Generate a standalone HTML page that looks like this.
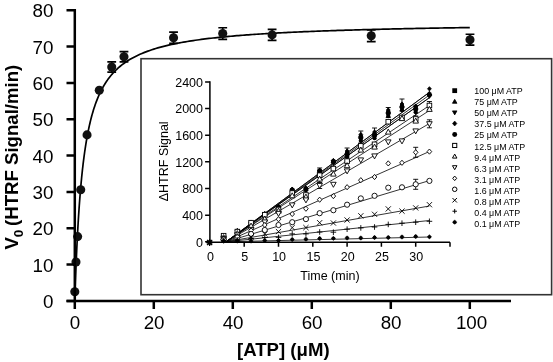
<!DOCTYPE html>
<html><head><meta charset="utf-8"><style>html,body{margin:0;padding:0;background:#fff;}svg{display:block;}</style></head>
<body><svg width="553" height="362" viewBox="0 0 553 362">
<rect width="553" height="362" fill="#fff"/>
<polyline points="74.80,300.90 74.88,298.37 74.96,295.89 75.04,293.45 75.12,291.06 75.19,288.70 75.27,286.39 75.35,284.12 75.43,281.88 75.51,279.68 75.59,277.52 75.67,275.40 75.75,273.31 75.83,271.26 75.91,269.23 75.98,267.24 76.06,265.29 76.14,263.36 76.22,261.46 76.30,259.60 76.38,257.76 76.46,255.95 76.54,254.17 76.62,252.41 76.70,250.68 76.77,248.98 76.85,247.30 76.93,245.65 77.01,244.02 77.09,242.41 77.17,240.83 77.25,239.27 77.33,237.73 77.41,236.21 77.49,234.72 77.56,233.24 77.64,231.79 77.72,230.35 77.80,228.93 77.88,227.54 77.96,226.16 78.04,224.80 78.12,223.46 78.20,222.14 78.28,220.83 78.36,219.54 78.43,218.27 78.51,217.01 78.59,215.77 78.67,214.54 78.75,213.33 78.83,212.14 78.91,210.96 78.99,209.79 79.07,208.64 79.14,207.50 79.22,206.38 79.30,205.27 79.38,204.17 79.46,203.09 79.54,202.02 79.62,200.96 79.70,199.91 79.78,198.88 79.86,197.86 79.94,196.85 80.01,195.85 80.09,194.86 80.17,193.89 80.25,192.92 80.33,191.97 80.41,191.02 80.49,190.09 80.57,189.16 80.65,188.25 80.72,187.35 80.80,186.45 80.88,185.57 80.96,184.69 81.04,183.83 81.12,182.97 81.20,182.13 81.28,181.29 81.36,180.46 81.44,179.64 81.52,178.82 81.59,178.02 81.67,177.22 81.75,176.43 81.83,175.65 81.91,174.88 81.99,174.12 82.07,173.36 82.15,172.61 82.23,171.87 82.30,171.13 82.38,170.41 82.46,169.68 82.54,168.97 82.62,168.26 82.70,167.56 83.09,164.16 83.49,160.91 83.88,157.81 84.28,154.84 84.67,152.00 85.07,149.28 85.47,146.66 85.86,144.16 86.25,141.75 86.65,139.43 87.05,137.20 87.44,135.06 87.83,132.99 88.23,131.00 88.62,129.07 89.02,127.22 89.41,125.42 89.81,123.69 90.20,122.01 90.60,120.39 91.00,118.82 91.39,117.30 91.78,115.82 92.18,114.39 92.58,113.00 92.97,111.66 93.36,110.35 93.76,109.08 94.16,107.84 94.55,106.64 94.94,105.48 95.34,104.34 95.73,103.24 96.13,102.16 96.53,101.11 96.92,100.09 97.31,99.10 97.71,98.13 98.11,97.18 98.50,96.26 98.89,95.35 99.29,94.48 99.69,93.62 100.08,92.78 100.47,91.96 100.87,91.16 101.27,90.37 101.66,89.61 102.06,88.86 102.45,88.13 102.84,87.41 103.24,86.71 103.64,86.02 104.03,85.35 104.42,84.69 104.82,84.05 105.22,83.42 105.61,82.80 106.00,82.19 106.40,81.60 106.80,81.01 107.19,80.44 107.59,79.88 107.98,79.33 108.38,78.79 108.77,78.26 109.16,77.74 109.56,77.23 109.95,76.72 110.35,76.23 110.75,75.75 111.14,75.27 111.53,74.80 111.93,74.34 112.32,73.89 112.72,73.45 113.11,73.01 113.51,72.58 113.91,72.16 114.30,71.75 116.28,69.77 118.25,67.94 120.22,66.25 122.20,64.67 124.17,63.20 126.15,61.83 128.12,60.55 130.10,59.35 132.07,58.21 134.05,57.15 136.03,56.14 138.00,55.19 139.97,54.29 141.95,53.44 143.93,52.63 145.90,51.86 147.88,51.13 149.85,50.43 151.82,49.77 153.80,49.13 155.78,48.52 157.75,47.94 159.72,47.38 161.70,46.85 163.68,46.34 165.65,45.85 167.62,45.37 169.60,44.92 171.57,44.48 173.55,44.06 175.53,43.65 177.50,43.26 179.48,42.88 181.45,42.52 183.43,42.17 185.40,41.82 187.38,41.49 189.35,41.17 191.32,40.87 193.30,40.57 195.28,40.27 197.25,39.99 199.23,39.72 201.20,39.45 203.18,39.20 205.15,38.95 207.12,38.70 209.10,38.46 211.07,38.23 213.05,38.01 215.02,37.79 217.00,37.58 218.98,37.37 220.95,37.17 222.93,36.97 224.90,36.78 226.88,36.60 228.85,36.41 230.82,36.23 232.80,36.06 234.77,35.89 236.75,35.72 238.73,35.56 240.70,35.40 242.68,35.25 244.65,35.10 246.62,34.95 248.60,34.81 250.57,34.66 252.55,34.52 254.52,34.39 256.50,34.26 258.48,34.12 260.45,34.00 262.43,33.87 264.40,33.75 266.38,33.63 268.35,33.51 270.32,33.40 272.30,33.28 274.28,33.17 276.25,33.06 278.23,32.95 280.20,32.85 282.18,32.75 284.15,32.65 286.12,32.55 288.10,32.45 290.07,32.35 292.05,32.26 294.03,32.16 296.00,32.07 297.98,31.98 299.95,31.90 301.93,31.81 303.90,31.72 305.88,31.64 307.85,31.56 309.82,31.48 311.80,31.40 313.78,31.32 315.75,31.24 317.73,31.17 319.70,31.09 321.68,31.02 323.65,30.94 325.62,30.87 327.60,30.80 329.57,30.73 331.55,30.67 333.53,30.60 335.50,30.53 337.48,30.47 339.45,30.40 341.43,30.34 343.40,30.28 345.38,30.21 347.35,30.15 349.33,30.09 351.30,30.03 353.28,29.98 355.25,29.92 357.23,29.86 359.20,29.81 361.18,29.75 363.15,29.70 365.12,29.64 367.10,29.59 369.08,29.54 371.05,29.49 373.03,29.44 375.00,29.38 376.98,29.33 378.95,29.29 380.93,29.24 382.90,29.19 384.88,29.14 386.85,29.10 388.83,29.05 390.80,29.00 392.78,28.96 394.75,28.91 396.73,28.87 398.70,28.83 400.68,28.78 402.65,28.74 404.62,28.70 406.60,28.66 408.58,28.62 410.55,28.58 412.53,28.54 414.50,28.50 416.48,28.46 418.45,28.42 420.43,28.38 422.40,28.34 424.38,28.31 426.35,28.27 428.33,28.23 430.30,28.20 432.28,28.16 434.25,28.13 436.23,28.09 438.20,28.06 440.18,28.02 442.15,27.99 444.12,27.95 446.10,27.92 448.08,27.89 450.05,27.86 452.03,27.82 454.00,27.79 455.98,27.76 457.95,27.73 459.93,27.70 461.90,27.67 463.88,27.64 465.85,27.61 467.83,27.58 469.80,27.55" fill="none" stroke="#000" stroke-width="1.7"/>
<circle cx="74.80" cy="291.82" r="4.55" fill="#111"/>
<circle cx="75.98" cy="262.03" r="4.55" fill="#111"/>
<circle cx="77.64" cy="236.60" r="4.55" fill="#111"/>
<circle cx="80.72" cy="189.75" r="4.55" fill="#111"/>
<circle cx="87.05" cy="134.89" r="4.55" fill="#111"/>
<circle cx="99.29" cy="90.21" r="4.55" fill="#111"/>
<path d="M111.73,61.88V72.05M107.33,61.88h8.8M107.33,72.05h8.8" stroke="#000" stroke-width="1.7" fill="none"/>
<circle cx="111.73" cy="66.97" r="4.55" fill="#111"/>
<path d="M123.98,51.71V61.88M119.58,51.71h8.8M119.58,61.88h8.8" stroke="#000" stroke-width="1.7" fill="none"/>
<circle cx="123.98" cy="56.80" r="4.55" fill="#111"/>
<path d="M173.55,32.20V43.46M169.15,32.20h8.8M169.15,43.46h8.8" stroke="#000" stroke-width="1.7" fill="none"/>
<circle cx="173.55" cy="37.83" r="4.55" fill="#111"/>
<path d="M222.73,27.74V39.36M218.33,27.74h8.8M218.33,39.36h8.8" stroke="#000" stroke-width="1.7" fill="none"/>
<circle cx="222.73" cy="33.55" r="4.55" fill="#111"/>
<path d="M272.10,29.44V40.34M267.70,29.44h8.8M267.70,40.34h8.8" stroke="#000" stroke-width="1.7" fill="none"/>
<circle cx="272.10" cy="34.89" r="4.55" fill="#111"/>
<path d="M371.25,29.92V41.54M366.85,29.92h8.8M366.85,41.54h8.8" stroke="#000" stroke-width="1.7" fill="none"/>
<circle cx="371.25" cy="35.73" r="4.55" fill="#111"/>
<path d="M470.00,34.27V45.17M465.60,34.27h8.8M465.60,45.17h8.8" stroke="#000" stroke-width="1.7" fill="none"/>
<circle cx="470.00" cy="39.72" r="4.55" fill="#111"/>
<path d="M74.8,9.100000000000012V300.9M66.5,300.9H511" stroke="#000" stroke-width="2.5" fill="none"/>
<path d="M66.5,300.90H74.8M66.5,264.57H74.8M66.5,228.25H74.8M66.5,191.92H74.8M66.5,155.60H74.8M66.5,119.27H74.8M66.5,82.95H74.8M66.5,46.62H74.8M66.5,10.30H74.8M74.80,300.9V309M153.80,300.9V309M232.80,300.9V309M311.80,300.9V309M390.80,300.9V309M469.80,300.9V309" stroke="#000" stroke-width="2.5" fill="none"/>
<g font-family="Liberation Sans, Arial, sans-serif" font-size="18.8" fill="#000">
<text x="53.5" y="308.00" text-anchor="end">0</text>
<text x="53.5" y="271.68" text-anchor="end">10</text>
<text x="53.5" y="235.35" text-anchor="end">20</text>
<text x="53.5" y="199.02" text-anchor="end">30</text>
<text x="53.5" y="162.70" text-anchor="end">40</text>
<text x="53.5" y="126.37" text-anchor="end">50</text>
<text x="53.5" y="90.05" text-anchor="end">60</text>
<text x="53.5" y="53.73" text-anchor="end">70</text>
<text x="53.5" y="17.40" text-anchor="end">80</text>
<text x="75.10" y="328.8" text-anchor="middle">0</text>
<text x="154.10" y="328.8" text-anchor="middle">20</text>
<text x="233.10" y="328.8" text-anchor="middle">40</text>
<text x="312.10" y="328.8" text-anchor="middle">60</text>
<text x="391.10" y="328.8" text-anchor="middle">80</text>
<text x="471.60" y="328.8" text-anchor="middle">100</text>
</g>
<text x="283.3" y="356" text-anchor="middle" font-family="Liberation Sans, Arial, sans-serif" font-size="18.6" font-weight="bold">[ATP] (μM)</text>
<text transform="translate(17.6,249.6) rotate(-90)" font-family="Liberation Sans, Arial, sans-serif" font-size="18.6" font-weight="bold">V<tspan font-size="13.5" dy="5.2">0 </tspan><tspan dy="-5.2">(HTRF Signal/min)</tspan></text>
<rect x="141" y="58.7" width="410.6" height="236" fill="#fff" stroke="#333" stroke-width="1.6"/>
<path d="M226.02,241.80L429.42,92.30M226.02,241.80L429.42,92.30M226.02,241.80L429.42,95.00M226.02,241.80L429.42,97.70M226.02,241.80L429.42,97.70M226.02,241.80L429.42,105.50M226.02,241.80L429.42,110.50M226.02,241.80L429.42,123.50M226.02,241.80L429.42,151.50M226.02,241.80L429.42,180.60M226.02,241.80L429.42,206.00M226.02,241.80L429.42,220.50M226.02,241.80L429.42,237.00" stroke="#000" stroke-width="0.8" fill="none"/>
<rect x="221.65" y="234.51" width="3.94" height="3.94" fill="#000"/>
<rect x="235.37" y="229.51" width="3.94" height="3.94" fill="#000"/>
<rect x="249.09" y="221.01" width="3.94" height="3.94" fill="#000"/>
<rect x="262.81" y="212.51" width="3.94" height="3.94" fill="#000"/>
<rect x="276.53" y="205.31" width="3.94" height="3.94" fill="#000"/>
<rect x="290.25" y="188.01" width="3.94" height="3.94" fill="#000"/>
<rect x="303.97" y="187.01" width="3.94" height="3.94" fill="#000"/>
<path d="M319.66,167.97V173.97M317.16,167.97h5M317.16,173.97h5" stroke="#000" stroke-width="0.9" fill="none"/>
<rect x="317.69" y="169.01" width="3.94" height="3.94" fill="#000"/>
<rect x="331.41" y="159.51" width="3.94" height="3.94" fill="#000"/>
<rect x="345.13" y="151.53" width="3.94" height="3.94" fill="#000"/>
<path d="M360.82,131.00V143.00M358.32,131.00h5M358.32,143.00h5" stroke="#000" stroke-width="0.9" fill="none"/>
<rect x="358.85" y="135.03" width="3.94" height="3.94" fill="#000"/>
<rect x="372.57" y="132.53" width="3.94" height="3.94" fill="#000"/>
<path d="M388.26,107.50V117.50M385.76,107.50h5M385.76,117.50h5" stroke="#000" stroke-width="0.9" fill="none"/>
<rect x="386.29" y="110.53" width="3.94" height="3.94" fill="#000"/>
<rect x="400.01" y="104.53" width="3.94" height="3.94" fill="#000"/>
<rect x="413.73" y="106.53" width="3.94" height="3.94" fill="#000"/>
<rect x="427.45" y="92.53" width="3.94" height="3.94" fill="#000"/>
<path d="M223.62,233.57L225.92,237.67L221.32,237.67Z" fill="#000" stroke="#000" stroke-width="0.8"/>
<path d="M237.34,228.57L239.64,232.67L235.04,232.67Z" fill="#000" stroke="#000" stroke-width="0.8"/>
<path d="M251.06,220.07L253.36,224.17L248.76,224.17Z" fill="#000" stroke="#000" stroke-width="0.8"/>
<path d="M264.78,211.57L267.08,215.67L262.48,215.67Z" fill="#000" stroke="#000" stroke-width="0.8"/>
<path d="M278.50,204.37L280.80,208.47L276.20,208.47Z" fill="#000" stroke="#000" stroke-width="0.8"/>
<path d="M292.22,187.07L294.52,191.17L289.92,191.17Z" fill="#000" stroke="#000" stroke-width="0.8"/>
<path d="M305.94,186.07L308.24,190.17L303.64,190.17Z" fill="#000" stroke="#000" stroke-width="0.8"/>
<path d="M319.66,168.07L321.96,172.17L317.36,172.17Z" fill="#000" stroke="#000" stroke-width="0.8"/>
<path d="M333.38,158.57L335.68,162.67L331.08,162.67Z" fill="#000" stroke="#000" stroke-width="0.8"/>
<path d="M347.10,148.00V156.00M344.60,148.00h5M344.60,156.00h5" stroke="#000" stroke-width="0.9" fill="none"/>
<path d="M347.10,149.62L349.40,153.72L344.80,153.72Z" fill="#000" stroke="#000" stroke-width="0.8"/>
<path d="M360.82,133.12L363.12,137.22L358.52,137.22Z" fill="#000" stroke="#000" stroke-width="0.8"/>
<path d="M374.54,130.62L376.84,134.72L372.24,134.72Z" fill="#000" stroke="#000" stroke-width="0.8"/>
<path d="M388.26,108.62L390.56,112.72L385.96,112.72Z" fill="#000" stroke="#000" stroke-width="0.8"/>
<path d="M401.98,99.00V111.00M399.48,99.00h5M399.48,111.00h5" stroke="#000" stroke-width="0.9" fill="none"/>
<path d="M401.98,102.62L404.28,106.72L399.68,106.72Z" fill="#000" stroke="#000" stroke-width="0.8"/>
<path d="M415.70,104.62L418.00,108.72L413.40,108.72Z" fill="#000" stroke="#000" stroke-width="0.8"/>
<path d="M429.42,91.12L431.72,95.22L427.12,95.22Z" fill="#000" stroke="#000" stroke-width="0.8"/>
<path d="M223.62,239.73L225.92,235.63L221.32,235.63Z" fill="#000" stroke="#000" stroke-width="0.8"/>
<path d="M237.34,234.73L239.64,230.63L235.04,230.63Z" fill="#000" stroke="#000" stroke-width="0.8"/>
<path d="M251.06,226.23L253.36,222.13L248.76,222.13Z" fill="#000" stroke="#000" stroke-width="0.8"/>
<path d="M264.78,217.73L267.08,213.63L262.48,213.63Z" fill="#000" stroke="#000" stroke-width="0.8"/>
<path d="M278.50,210.53L280.80,206.43L276.20,206.43Z" fill="#000" stroke="#000" stroke-width="0.8"/>
<path d="M292.22,193.23L294.52,189.13L289.92,189.13Z" fill="#000" stroke="#000" stroke-width="0.8"/>
<path d="M305.94,192.23L308.24,188.13L303.64,188.13Z" fill="#000" stroke="#000" stroke-width="0.8"/>
<path d="M319.66,174.23L321.96,170.13L317.36,170.13Z" fill="#000" stroke="#000" stroke-width="0.8"/>
<path d="M333.38,164.73L335.68,160.63L331.08,160.63Z" fill="#000" stroke="#000" stroke-width="0.8"/>
<path d="M347.10,158.38L349.40,154.28L344.80,154.28Z" fill="#000" stroke="#000" stroke-width="0.8"/>
<path d="M360.82,141.88L363.12,137.78L358.52,137.78Z" fill="#000" stroke="#000" stroke-width="0.8"/>
<path d="M374.54,139.38L376.84,135.28L372.24,135.28Z" fill="#000" stroke="#000" stroke-width="0.8"/>
<path d="M388.26,117.38L390.56,113.28L385.96,113.28Z" fill="#000" stroke="#000" stroke-width="0.8"/>
<path d="M401.98,111.38L404.28,107.28L399.68,107.28Z" fill="#000" stroke="#000" stroke-width="0.8"/>
<path d="M415.70,106.00V116.00M413.20,106.00h5M413.20,116.00h5" stroke="#000" stroke-width="0.9" fill="none"/>
<path d="M415.70,113.38L418.00,109.28L413.40,109.28Z" fill="#000" stroke="#000" stroke-width="0.8"/>
<path d="M429.42,98.38L431.72,94.28L427.12,94.28Z" fill="#000" stroke="#000" stroke-width="0.8"/>
<path d="M223.62,233.47L225.51,235.60L223.62,237.73L221.73,235.60Z" fill="#000" stroke="#000" stroke-width="0.8"/>
<path d="M237.34,228.47L239.23,230.60L237.34,232.73L235.45,230.60Z" fill="#000" stroke="#000" stroke-width="0.8"/>
<path d="M251.06,219.97L252.95,222.10L251.06,224.23L249.17,222.10Z" fill="#000" stroke="#000" stroke-width="0.8"/>
<path d="M264.78,211.47L266.67,213.60L264.78,215.73L262.89,213.60Z" fill="#000" stroke="#000" stroke-width="0.8"/>
<path d="M278.50,204.27L280.39,206.40L278.50,208.53L276.61,206.40Z" fill="#000" stroke="#000" stroke-width="0.8"/>
<path d="M292.22,186.97L294.11,189.10L292.22,191.23L290.33,189.10Z" fill="#000" stroke="#000" stroke-width="0.8"/>
<path d="M305.94,185.97L307.83,188.10L305.94,190.23L304.05,188.10Z" fill="#000" stroke="#000" stroke-width="0.8"/>
<path d="M319.66,167.97L321.55,170.10L319.66,172.23L317.77,170.10Z" fill="#000" stroke="#000" stroke-width="0.8"/>
<path d="M333.38,158.47L335.27,160.60L333.38,162.73L331.49,160.60Z" fill="#000" stroke="#000" stroke-width="0.8"/>
<path d="M347.10,148.87L348.99,151.00L347.10,153.13L345.21,151.00Z" fill="#000" stroke="#000" stroke-width="0.8"/>
<path d="M360.82,132.37L362.71,134.50L360.82,136.63L358.93,134.50Z" fill="#000" stroke="#000" stroke-width="0.8"/>
<path d="M374.54,128.00V136.00M372.04,128.00h5M372.04,136.00h5" stroke="#000" stroke-width="0.9" fill="none"/>
<path d="M374.54,129.87L376.43,132.00L374.54,134.13L372.65,132.00Z" fill="#000" stroke="#000" stroke-width="0.8"/>
<path d="M388.26,107.87L390.15,110.00L388.26,112.13L386.37,110.00Z" fill="#000" stroke="#000" stroke-width="0.8"/>
<path d="M401.98,101.87L403.87,104.00L401.98,106.13L400.09,104.00Z" fill="#000" stroke="#000" stroke-width="0.8"/>
<path d="M415.70,103.87L417.59,106.00L415.70,108.13L413.81,106.00Z" fill="#000" stroke="#000" stroke-width="0.8"/>
<path d="M429.42,86.67L431.31,88.80L429.42,90.93L427.53,88.80Z" fill="#000" stroke="#000" stroke-width="0.8"/>
<circle cx="223.62" cy="237.77" r="2.13" fill="#000"/>
<circle cx="237.34" cy="232.77" r="2.13" fill="#000"/>
<circle cx="251.06" cy="224.27" r="2.13" fill="#000"/>
<circle cx="264.78" cy="215.77" r="2.13" fill="#000"/>
<circle cx="278.50" cy="208.57" r="2.13" fill="#000"/>
<circle cx="292.22" cy="191.27" r="2.13" fill="#000"/>
<circle cx="305.94" cy="190.27" r="2.13" fill="#000"/>
<circle cx="319.66" cy="172.27" r="2.13" fill="#000"/>
<circle cx="333.38" cy="162.77" r="2.13" fill="#000"/>
<circle cx="347.10" cy="157.20" r="2.13" fill="#000"/>
<circle cx="360.82" cy="140.70" r="2.13" fill="#000"/>
<circle cx="374.54" cy="138.20" r="2.13" fill="#000"/>
<circle cx="388.26" cy="116.20" r="2.13" fill="#000"/>
<circle cx="401.98" cy="110.20" r="2.13" fill="#000"/>
<circle cx="415.70" cy="112.20" r="2.13" fill="#000"/>
<circle cx="429.42" cy="95.50" r="2.13" fill="#000"/>
<rect x="221.32" y="233.40" width="4.60" height="4.60" fill="#fff" stroke="#000" stroke-width="0.9"/>
<rect x="235.04" y="229.30" width="4.60" height="4.60" fill="#fff" stroke="#000" stroke-width="0.9"/>
<rect x="248.76" y="220.40" width="4.60" height="4.60" fill="#fff" stroke="#000" stroke-width="0.9"/>
<rect x="262.48" y="212.40" width="4.60" height="4.60" fill="#fff" stroke="#000" stroke-width="0.9"/>
<rect x="276.20" y="207.20" width="4.60" height="4.60" fill="#fff" stroke="#000" stroke-width="0.9"/>
<rect x="289.92" y="190.70" width="4.60" height="4.60" fill="#fff" stroke="#000" stroke-width="0.9"/>
<rect x="303.64" y="192.70" width="4.60" height="4.60" fill="#fff" stroke="#000" stroke-width="0.9"/>
<rect x="317.36" y="172.90" width="4.60" height="4.60" fill="#fff" stroke="#000" stroke-width="0.9"/>
<rect x="331.08" y="166.30" width="4.60" height="4.60" fill="#fff" stroke="#000" stroke-width="0.9"/>
<rect x="344.80" y="158.80" width="4.60" height="4.60" fill="#fff" stroke="#000" stroke-width="0.9"/>
<rect x="358.52" y="143.60" width="4.60" height="4.60" fill="#fff" stroke="#000" stroke-width="0.9"/>
<rect x="372.24" y="142.00" width="4.60" height="4.60" fill="#fff" stroke="#000" stroke-width="0.9"/>
<rect x="385.96" y="119.40" width="4.60" height="4.60" fill="#fff" stroke="#000" stroke-width="0.9"/>
<rect x="399.68" y="115.20" width="4.60" height="4.60" fill="#fff" stroke="#000" stroke-width="0.9"/>
<rect x="413.40" y="116.70" width="4.60" height="4.60" fill="#fff" stroke="#000" stroke-width="0.9"/>
<path d="M429.42,101.50V109.50M426.92,101.50h5M426.92,109.50h5" stroke="#000" stroke-width="0.9" fill="none"/>
<rect x="427.12" y="103.20" width="4.60" height="4.60" fill="#fff" stroke="#000" stroke-width="0.9"/>
<path d="M223.62,234.60L226.42,239.60L220.82,239.60Z" fill="#fff" stroke="#000" stroke-width="0.9"/>
<path d="M237.34,230.60L240.14,235.60L234.54,235.60Z" fill="#fff" stroke="#000" stroke-width="0.9"/>
<path d="M251.06,223.10L253.86,228.10L248.26,228.10Z" fill="#fff" stroke="#000" stroke-width="0.9"/>
<path d="M264.78,216.10L267.58,221.10L261.98,221.10Z" fill="#fff" stroke="#000" stroke-width="0.9"/>
<path d="M278.50,208.10L281.30,213.10L275.70,213.10Z" fill="#fff" stroke="#000" stroke-width="0.9"/>
<path d="M292.22,192.80L295.02,197.80L289.42,197.80Z" fill="#fff" stroke="#000" stroke-width="0.9"/>
<path d="M305.94,194.10L308.74,199.10L303.14,199.10Z" fill="#fff" stroke="#000" stroke-width="0.9"/>
<path d="M319.66,176.10L322.46,181.10L316.86,181.10Z" fill="#fff" stroke="#000" stroke-width="0.9"/>
<path d="M333.38,171.10L336.18,176.10L330.58,176.10Z" fill="#fff" stroke="#000" stroke-width="0.9"/>
<path d="M347.10,162.70L349.90,167.70L344.30,167.70Z" fill="#fff" stroke="#000" stroke-width="0.9"/>
<path d="M360.82,147.10L363.62,152.10L358.02,152.10Z" fill="#fff" stroke="#000" stroke-width="0.9"/>
<path d="M374.54,144.10L377.34,149.10L371.74,149.10Z" fill="#fff" stroke="#000" stroke-width="0.9"/>
<path d="M388.26,129.10L391.06,134.10L385.46,134.10Z" fill="#fff" stroke="#000" stroke-width="0.9"/>
<path d="M401.98,115.60L404.78,120.60L399.18,120.60Z" fill="#fff" stroke="#000" stroke-width="0.9"/>
<path d="M415.70,118.10L418.50,123.10L412.90,123.10Z" fill="#fff" stroke="#000" stroke-width="0.9"/>
<path d="M429.42,106.40L432.22,111.40L426.62,111.40Z" fill="#fff" stroke="#000" stroke-width="0.9"/>
<path d="M223.62,241.40L226.42,236.40L220.82,236.40Z" fill="#fff" stroke="#000" stroke-width="0.9"/>
<path d="M237.34,237.90L240.14,232.90L234.54,232.90Z" fill="#fff" stroke="#000" stroke-width="0.9"/>
<path d="M251.06,232.40L253.86,227.40L248.26,227.40Z" fill="#fff" stroke="#000" stroke-width="0.9"/>
<path d="M264.78,224.90L267.58,219.90L261.98,219.90Z" fill="#fff" stroke="#000" stroke-width="0.9"/>
<path d="M278.50,216.40L281.30,211.40L275.70,211.40Z" fill="#fff" stroke="#000" stroke-width="0.9"/>
<path d="M292.22,207.90L295.02,202.90L289.42,202.90Z" fill="#fff" stroke="#000" stroke-width="0.9"/>
<path d="M305.94,202.90L308.74,197.90L303.14,197.90Z" fill="#fff" stroke="#000" stroke-width="0.9"/>
<path d="M319.66,182.50V188.50M317.16,182.50h5M317.16,188.50h5" stroke="#000" stroke-width="0.9" fill="none"/>
<path d="M319.66,188.40L322.46,183.40L316.86,183.40Z" fill="#fff" stroke="#000" stroke-width="0.9"/>
<path d="M333.38,187.30L336.18,182.30L330.58,182.30Z" fill="#fff" stroke="#000" stroke-width="0.9"/>
<path d="M347.10,173.90L349.90,168.90L344.30,168.90Z" fill="#fff" stroke="#000" stroke-width="0.9"/>
<path d="M360.82,162.90L363.62,157.90L358.02,157.90Z" fill="#fff" stroke="#000" stroke-width="0.9"/>
<path d="M374.54,158.90L377.34,153.90L371.74,153.90Z" fill="#fff" stroke="#000" stroke-width="0.9"/>
<path d="M388.26,144.90L391.06,139.90L385.46,139.90Z" fill="#fff" stroke="#000" stroke-width="0.9"/>
<path d="M401.98,143.90L404.78,138.90L399.18,138.90Z" fill="#fff" stroke="#000" stroke-width="0.9"/>
<path d="M415.70,133.90L418.50,128.90L412.90,128.90Z" fill="#fff" stroke="#000" stroke-width="0.9"/>
<path d="M429.42,119.80V127.80M426.92,119.80h5M426.92,127.80h5" stroke="#000" stroke-width="0.9" fill="none"/>
<path d="M429.42,126.70L432.22,121.70L426.62,121.70Z" fill="#fff" stroke="#000" stroke-width="0.9"/>
<path d="M223.62,236.40L225.92,239.00L223.62,241.60L221.32,239.00Z" fill="#fff" stroke="#000" stroke-width="0.9"/>
<path d="M237.34,233.90L239.64,236.50L237.34,239.10L235.04,236.50Z" fill="#fff" stroke="#000" stroke-width="0.9"/>
<path d="M251.06,227.90L253.36,230.50L251.06,233.10L248.76,230.50Z" fill="#fff" stroke="#000" stroke-width="0.9"/>
<path d="M264.78,222.40L267.08,225.00L264.78,227.60L262.48,225.00Z" fill="#fff" stroke="#000" stroke-width="0.9"/>
<path d="M278.50,216.60L280.80,219.20L278.50,221.80L276.20,219.20Z" fill="#fff" stroke="#000" stroke-width="0.9"/>
<path d="M292.22,211.40L294.52,214.00L292.22,216.60L289.92,214.00Z" fill="#fff" stroke="#000" stroke-width="0.9"/>
<path d="M305.94,206.10L308.24,208.70L305.94,211.30L303.64,208.70Z" fill="#fff" stroke="#000" stroke-width="0.9"/>
<path d="M319.66,197.10L321.96,199.70L319.66,202.30L317.36,199.70Z" fill="#fff" stroke="#000" stroke-width="0.9"/>
<path d="M333.38,193.50L335.68,196.10L333.38,198.70L331.08,196.10Z" fill="#fff" stroke="#000" stroke-width="0.9"/>
<path d="M347.10,184.60L349.40,187.20L347.10,189.80L344.80,187.20Z" fill="#fff" stroke="#000" stroke-width="0.9"/>
<path d="M360.82,177.60L363.12,180.20L360.82,182.80L358.52,180.20Z" fill="#fff" stroke="#000" stroke-width="0.9"/>
<path d="M374.54,174.40L376.84,177.00L374.54,179.60L372.24,177.00Z" fill="#fff" stroke="#000" stroke-width="0.9"/>
<path d="M388.26,160.80L390.56,163.40L388.26,166.00L385.96,163.40Z" fill="#fff" stroke="#000" stroke-width="0.9"/>
<path d="M401.98,160.20L404.28,162.80L401.98,165.40L399.68,162.80Z" fill="#fff" stroke="#000" stroke-width="0.9"/>
<path d="M415.70,147.30V157.30M413.20,147.30h5M413.20,157.30h5" stroke="#000" stroke-width="0.9" fill="none"/>
<path d="M415.70,149.70L418.00,152.30L415.70,154.90L413.40,152.30Z" fill="#fff" stroke="#000" stroke-width="0.9"/>
<path d="M429.42,149.00L431.72,151.60L429.42,154.20L427.12,151.60Z" fill="#fff" stroke="#000" stroke-width="0.9"/>
<circle cx="223.62" cy="239.50" r="2.60" fill="#fff" stroke="#000" stroke-width="0.9"/>
<circle cx="237.34" cy="237.50" r="2.60" fill="#fff" stroke="#000" stroke-width="0.9"/>
<circle cx="251.06" cy="234.00" r="2.60" fill="#fff" stroke="#000" stroke-width="0.9"/>
<circle cx="264.78" cy="230.00" r="2.60" fill="#fff" stroke="#000" stroke-width="0.9"/>
<circle cx="278.50" cy="225.00" r="2.60" fill="#fff" stroke="#000" stroke-width="0.9"/>
<circle cx="292.22" cy="222.20" r="2.60" fill="#fff" stroke="#000" stroke-width="0.9"/>
<circle cx="305.94" cy="219.10" r="2.60" fill="#fff" stroke="#000" stroke-width="0.9"/>
<circle cx="319.66" cy="213.20" r="2.60" fill="#fff" stroke="#000" stroke-width="0.9"/>
<circle cx="333.38" cy="210.20" r="2.60" fill="#fff" stroke="#000" stroke-width="0.9"/>
<circle cx="347.10" cy="204.70" r="2.60" fill="#fff" stroke="#000" stroke-width="0.9"/>
<circle cx="360.82" cy="198.40" r="2.60" fill="#fff" stroke="#000" stroke-width="0.9"/>
<circle cx="374.54" cy="195.80" r="2.60" fill="#fff" stroke="#000" stroke-width="0.9"/>
<circle cx="388.26" cy="187.70" r="2.60" fill="#fff" stroke="#000" stroke-width="0.9"/>
<circle cx="401.98" cy="187.30" r="2.60" fill="#fff" stroke="#000" stroke-width="0.9"/>
<path d="M415.70,179.30V189.30M413.20,179.30h5M413.20,189.30h5" stroke="#000" stroke-width="0.9" fill="none"/>
<circle cx="415.70" cy="184.30" r="2.60" fill="#fff" stroke="#000" stroke-width="0.9"/>
<circle cx="429.42" cy="180.90" r="2.60" fill="#fff" stroke="#000" stroke-width="0.9"/>
<path d="M221.02,237.40L226.22,242.60M226.22,237.40L221.02,242.60" stroke="#000" stroke-width="0.9"/>
<path d="M234.74,236.40L239.94,241.60M239.94,236.40L234.74,241.60" stroke="#000" stroke-width="0.9"/>
<path d="M248.46,234.40L253.66,239.60M253.66,234.40L248.46,239.60" stroke="#000" stroke-width="0.9"/>
<path d="M262.18,231.40L267.38,236.60M267.38,231.40L262.18,236.60" stroke="#000" stroke-width="0.9"/>
<path d="M275.90,229.00L281.10,234.20M281.10,229.00L275.90,234.20" stroke="#000" stroke-width="0.9"/>
<path d="M289.62,225.00L294.82,230.20M294.82,225.00L289.62,230.20" stroke="#000" stroke-width="0.9"/>
<path d="M303.34,225.00L308.54,230.20M308.54,225.00L303.34,230.20" stroke="#000" stroke-width="0.9"/>
<path d="M317.06,220.10L322.26,225.30M322.26,220.10L317.06,225.30" stroke="#000" stroke-width="0.9"/>
<path d="M330.78,220.40L335.98,225.60M335.98,220.40L330.78,225.60" stroke="#000" stroke-width="0.9"/>
<path d="M344.50,217.40L349.70,222.60M349.70,217.40L344.50,222.60" stroke="#000" stroke-width="0.9"/>
<path d="M358.22,213.20L363.42,218.40M363.42,213.20L358.22,218.40" stroke="#000" stroke-width="0.9"/>
<path d="M371.94,211.70L377.14,216.90M377.14,211.70L371.94,216.90" stroke="#000" stroke-width="0.9"/>
<path d="M385.66,206.30L390.86,211.50M390.86,206.30L385.66,211.50" stroke="#000" stroke-width="0.9"/>
<path d="M399.38,208.50L404.58,213.70M404.58,208.50L399.38,213.70" stroke="#000" stroke-width="0.9"/>
<path d="M413.10,205.30L418.30,210.50M418.30,205.30L413.10,210.50" stroke="#000" stroke-width="0.9"/>
<path d="M426.82,202.10L432.02,207.30M432.02,202.10L426.82,207.30" stroke="#000" stroke-width="0.9"/>
<path d="M220.82,240.50H226.42M223.62,237.70V243.30" stroke="#000" stroke-width="0.9"/>
<path d="M234.54,240.00H240.14M237.34,237.20V242.80" stroke="#000" stroke-width="0.9"/>
<path d="M248.26,238.50H253.86M251.06,235.70V241.30" stroke="#000" stroke-width="0.9"/>
<path d="M261.98,237.50H267.58M264.78,234.70V240.30" stroke="#000" stroke-width="0.9"/>
<path d="M275.70,237.40H281.30M278.50,234.60V240.20" stroke="#000" stroke-width="0.9"/>
<path d="M289.42,233.90H295.02M292.22,231.10V236.70" stroke="#000" stroke-width="0.9"/>
<path d="M303.14,233.90H308.74M305.94,231.10V236.70" stroke="#000" stroke-width="0.9"/>
<path d="M316.86,232.00H322.46M319.66,229.20V234.80" stroke="#000" stroke-width="0.9"/>
<path d="M330.58,232.20H336.18M333.38,229.40V235.00" stroke="#000" stroke-width="0.9"/>
<path d="M344.30,229.20H349.90M347.10,226.40V232.00" stroke="#000" stroke-width="0.9"/>
<path d="M358.02,227.90H363.62M360.82,225.10V230.70" stroke="#000" stroke-width="0.9"/>
<path d="M371.74,227.00H377.34M374.54,224.20V229.80" stroke="#000" stroke-width="0.9"/>
<path d="M385.46,224.40H391.06M388.26,221.60V227.20" stroke="#000" stroke-width="0.9"/>
<path d="M399.18,223.20H404.78M401.98,220.40V226.00" stroke="#000" stroke-width="0.9"/>
<path d="M412.90,222.20H418.50M415.70,219.40V225.00" stroke="#000" stroke-width="0.9"/>
<path d="M426.62,221.30H432.22M429.42,218.50V224.10" stroke="#000" stroke-width="0.9"/>
<circle cx="223.62" cy="241.00" r="1.90" fill="#000"/><path d="M221.22,241.00H226.02M223.62,238.60V243.40" stroke="#000" stroke-width="0.7"/>
<circle cx="237.34" cy="241.00" r="1.90" fill="#000"/><path d="M234.94,241.00H239.74M237.34,238.60V243.40" stroke="#000" stroke-width="0.7"/>
<circle cx="251.06" cy="241.00" r="1.90" fill="#000"/><path d="M248.66,241.00H253.46M251.06,238.60V243.40" stroke="#000" stroke-width="0.7"/>
<circle cx="264.78" cy="240.50" r="1.90" fill="#000"/><path d="M262.38,240.50H267.18M264.78,238.10V242.90" stroke="#000" stroke-width="0.7"/>
<circle cx="278.50" cy="240.50" r="1.90" fill="#000"/><path d="M276.10,240.50H280.90M278.50,238.10V242.90" stroke="#000" stroke-width="0.7"/>
<circle cx="292.22" cy="239.50" r="1.90" fill="#000"/><path d="M289.82,239.50H294.62M292.22,237.10V241.90" stroke="#000" stroke-width="0.7"/>
<circle cx="305.94" cy="239.20" r="1.90" fill="#000"/><path d="M303.54,239.20H308.34M305.94,236.80V241.60" stroke="#000" stroke-width="0.7"/>
<circle cx="319.66" cy="238.50" r="1.90" fill="#000"/><path d="M317.26,238.50H322.06M319.66,236.10V240.90" stroke="#000" stroke-width="0.7"/>
<circle cx="333.38" cy="238.30" r="1.90" fill="#000"/><path d="M330.98,238.30H335.78M333.38,235.90V240.70" stroke="#000" stroke-width="0.7"/>
<circle cx="347.10" cy="238.00" r="1.90" fill="#000"/><path d="M344.70,238.00H349.50M347.10,235.60V240.40" stroke="#000" stroke-width="0.7"/>
<circle cx="360.82" cy="238.00" r="1.90" fill="#000"/><path d="M358.42,238.00H363.22M360.82,235.60V240.40" stroke="#000" stroke-width="0.7"/>
<circle cx="374.54" cy="237.50" r="1.90" fill="#000"/><path d="M372.14,237.50H376.94M374.54,235.10V239.90" stroke="#000" stroke-width="0.7"/>
<circle cx="388.26" cy="237.50" r="1.90" fill="#000"/><path d="M385.86,237.50H390.66M388.26,235.10V239.90" stroke="#000" stroke-width="0.7"/>
<circle cx="401.98" cy="237.00" r="1.90" fill="#000"/><path d="M399.58,237.00H404.38M401.98,234.60V239.40" stroke="#000" stroke-width="0.7"/>
<circle cx="415.70" cy="236.50" r="1.90" fill="#000"/><path d="M413.30,236.50H418.10M415.70,234.10V238.90" stroke="#000" stroke-width="0.7"/>
<circle cx="429.42" cy="236.80" r="1.90" fill="#000"/><path d="M427.02,236.80H431.82M429.42,234.40V239.20" stroke="#000" stroke-width="0.7"/>
<path d="M209.9,81.30V242.20H450.00" stroke="#000" stroke-width="1.5" fill="none"/>
<path d="M205.1,241.80H209.9M205.1,215.15H209.9M205.1,188.50H209.9M205.1,161.85H209.9M205.1,135.20H209.9M205.1,108.55H209.9M205.1,81.90H209.9M244.20,242.20V246.8M278.50,242.20V246.8M312.80,242.20V246.8M347.10,242.20V246.8M381.40,242.20V246.8M415.70,242.20V246.8M450.00,242.20V246.8" stroke="#000" stroke-width="1.5" fill="none"/>
<circle cx="209.60" cy="242.50" r="2.4" fill="#000"/>
<path d="M206.20,242.50H213.00M209.60,238.90V246.10M207.00,239.90L212.20,245.10M212.20,239.90L207.00,245.10" stroke="#000" stroke-width="1.3"/>
<g font-family="Liberation Sans, Arial, sans-serif" font-size="12.5" fill="#000">
<text x="203" y="246.55" text-anchor="end">0</text>
<text x="203" y="219.90" text-anchor="end">400</text>
<text x="203" y="193.25" text-anchor="end">800</text>
<text x="203" y="166.60" text-anchor="end">1200</text>
<text x="203" y="139.95" text-anchor="end">1600</text>
<text x="203" y="113.30" text-anchor="end">2000</text>
<text x="203" y="86.65" text-anchor="end">2400</text>
<text x="210.50" y="261" text-anchor="middle">0</text>
<text x="244.80" y="261" text-anchor="middle">5</text>
<text x="279.10" y="261" text-anchor="middle">10</text>
<text x="313.40" y="261" text-anchor="middle">15</text>
<text x="347.70" y="261" text-anchor="middle">20</text>
<text x="382.00" y="261" text-anchor="middle">25</text>
<text x="416.30" y="261" text-anchor="middle">30</text>
<text x="300.3" y="280.1">Time (min)</text>
<text transform="translate(168.2,161.3) rotate(-90)" text-anchor="middle">ΔHTRF Signal</text>
</g>
<g font-family="Liberation Sans, Arial, sans-serif" font-size="8.9" fill="#000">
<rect x="452.30" y="88.25" width="4.80" height="4.80" fill="#000"/>
<text x="474.3" y="94.10">100 μM ATP</text>
<path d="M454.70,99.29L456.94,103.29L452.46,103.29Z" fill="#000" stroke="#000" stroke-width="0.8"/>
<text x="474.3" y="105.19">75 μM ATP</text>
<path d="M454.70,114.89L456.94,110.89L452.46,110.89Z" fill="#000" stroke="#000" stroke-width="0.8"/>
<text x="474.3" y="116.28">50 μM ATP</text>
<path d="M454.70,121.06L456.88,123.53L454.70,126.00L452.51,123.53Z" fill="#000" stroke="#000" stroke-width="0.6"/>
<text x="474.3" y="127.37">37.5 μM ATP</text>
<circle cx="454.70" cy="134.49" r="2.47" fill="#000"/>
<text x="474.3" y="138.46">25 μM ATP</text>
<rect x="452.63" y="143.38" width="4.14" height="4.14" fill="#fff" stroke="#000" stroke-width="1.0"/>
<text x="474.3" y="149.55">12.5 μM ATP</text>
<path d="M454.70,154.09L456.94,158.09L452.46,158.09Z" fill="#fff" stroke="#000" stroke-width="1.0"/>
<text x="474.3" y="160.64">9.4 μM ATP</text>
<path d="M454.70,169.69L456.94,165.69L452.46,165.69Z" fill="#fff" stroke="#000" stroke-width="1.0"/>
<text x="474.3" y="171.73">6.3 μM ATP</text>
<path d="M454.70,176.07L456.70,178.33L454.70,180.59L452.70,178.33Z" fill="#fff" stroke="#000" stroke-width="1.0"/>
<text x="474.3" y="182.82">3.1 μM ATP</text>
<circle cx="454.70" cy="189.29" r="2.26" fill="#fff" stroke="#000" stroke-width="1.0"/>
<text x="474.3" y="193.91">1.6 μM ATP</text>
<path d="M452.44,197.99L456.96,202.51M456.96,197.99L452.44,202.51" stroke="#000" stroke-width="1.0"/>
<text x="474.3" y="205.00">0.8 μM ATP</text>
<path d="M452.46,211.21H456.94M454.70,208.97V213.45" stroke="#000" stroke-width="1.0"/>
<text x="474.3" y="216.09">0.4 μM ATP</text>
<circle cx="454.70" cy="222.17" r="1.90" fill="#000"/><path d="M452.30,222.17H457.10M454.70,219.77V224.57" stroke="#000" stroke-width="0.7"/>
<text x="474.3" y="227.18">0.1 μM ATP</text>
</g>
</svg></body></html>
